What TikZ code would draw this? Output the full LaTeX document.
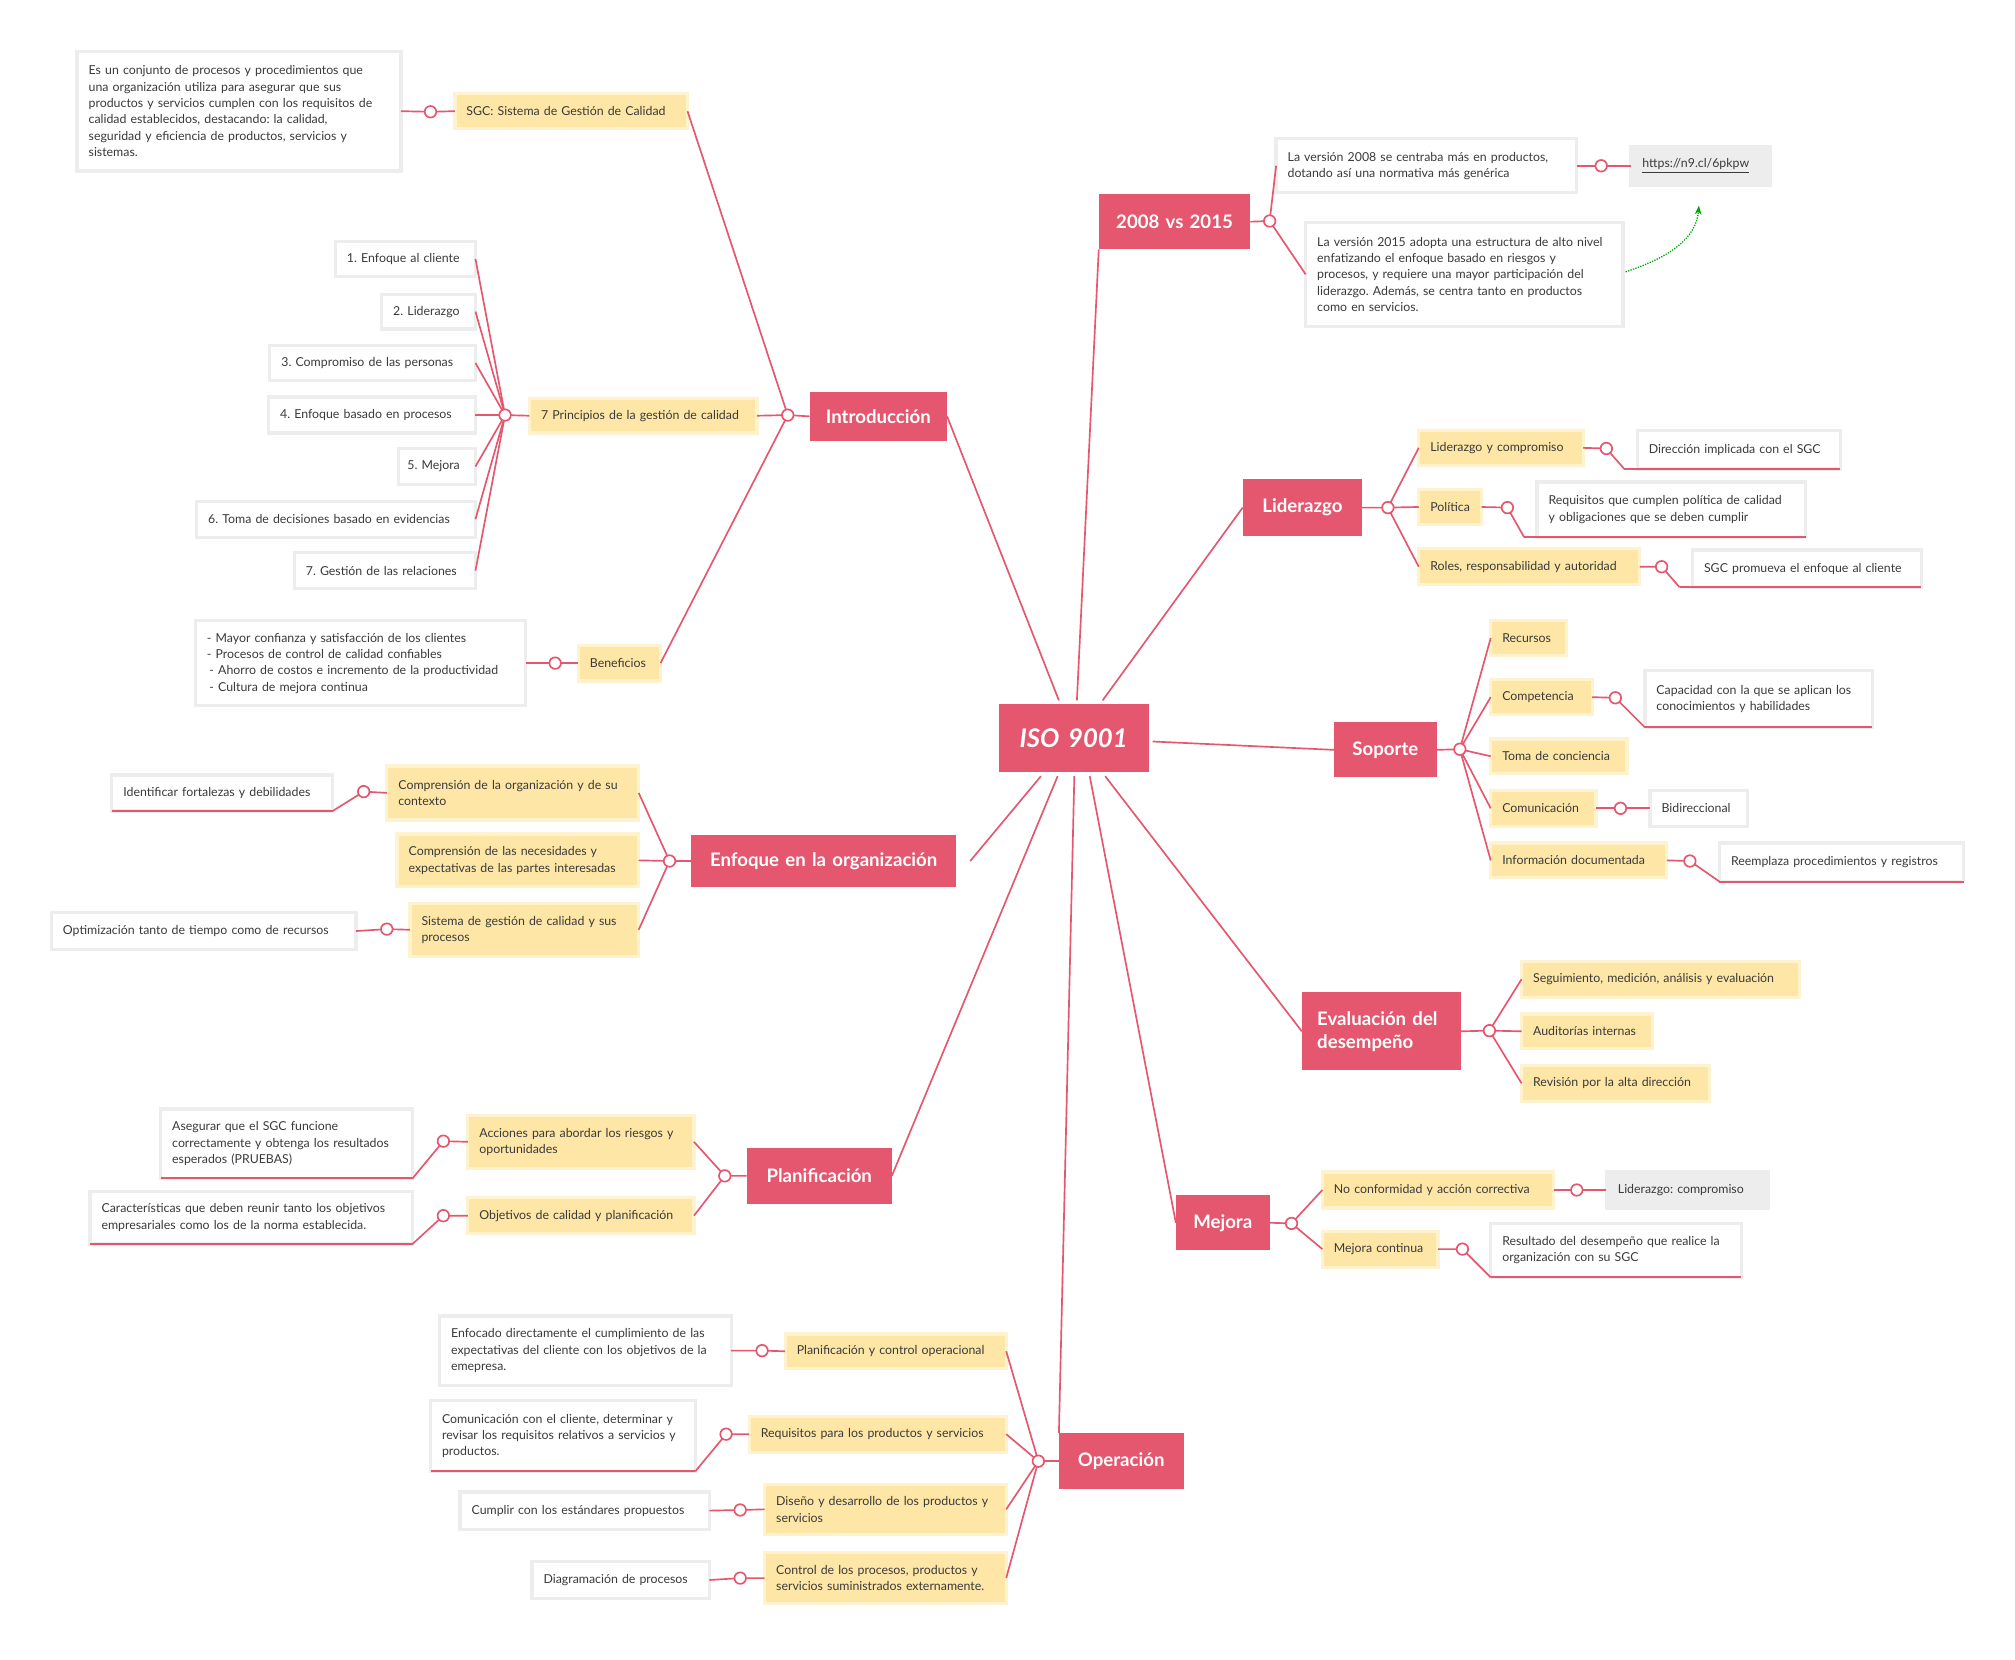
\documentclass[tikz,border=0pt]{standalone}
\usepackage{fontspec}
\setmainfont{Lato}
\frenchspacing
\usetikzlibrary{arrows.meta,calc}
\definecolor{pk}{HTML}{E5566F}
\definecolor{yf}{HTML}{FEE6A6}
\definecolor{yd}{HTML}{FFF2CF}
\definecolor{gb}{HTML}{EDEDED}
\definecolor{tx}{HTML}{3A3A3A}
\newcommand\bx[6]{\node[text width={(#4)-(#2)-18},#1,minimum width={(#4)-(#2)},minimum height={(#5)-(#3)}] (#6) at ({((#2)+(#4))/2},{((#3)+(#5))/2})}
\tikzset{
 base/.style={inner sep=0pt,outer sep=0pt,text=tx,font=\fontsize{9.6}{12.7}\selectfont,align=left},
 yb/.style={base,fill=yf,draw=yd,line width=2.5pt},
 wb/.style={base,fill=white,draw=gb,line width=2.5pt},
 gyb/.style={base,fill=gb,draw=gb,line width=2.5pt},
 mn/.style={inner sep=0pt,outer sep=0pt,fill=pk,text=white,font=\fontsize{14.5}{18}\selectfont\bfseries,align=center},
 ln/.style={draw=pk,line width=1.3pt},
 ul/.style={draw=pk,line width=1.5pt},
}
\begin{document}
\begin{tikzpicture}[x=1pt,y=-1pt]
\useasboundingbox (0,0) rectangle (1568,1291);
% central
\bx{mn,font=\fontsize{20}{24}\selectfont\bfseries\itshape}{777}{548}{894}{601}{iso}{ISO 9001};
% main topics
\bx{mn}{630}{305}{737}{343}{intro}{Introducción};
\bx{mn}{855}{151}{973}{194}{t08}{2008 vs 2015};
\bx{mn}{967}{373}{1060}{417}{lid}{Liderazgo};
\bx{mn}{1038}{562}{1118}{605}{sop}{Soporte};
\bx{mn,align=left,text width=100}{1013}{772}{1137}{833}{eval}{Evaluación del\\desempeño};
\bx{mn}{915}{930}{988}{973}{mej}{Mejora};
\bx{mn}{824}{1115}{921}{1159}{op}{Operación};
\bx{mn}{581}{893}{694}{937}{plan}{Planificación};
\bx{mn}{538}{650}{744}{690}{enf}{Enfoque en  la organización};
% circles coords
\coordinate (ci) at (613,323); \coordinate (cp) at (393,323); \coordinate (cs) at (335,87); \coordinate (cb) at (432,516);
\coordinate (c08) at (988,172); \coordinate (cv) at (1246,129);
\coordinate (cl) at (1080,395); \coordinate (cl1) at (1250,349); \coordinate (cl2) at (1173,395); \coordinate (cl3) at (1293,441);
\coordinate (cso) at (1136,583); \coordinate (cs2) at (1257,543); \coordinate (cs4) at (1261,629); \coordinate (cs5) at (1315,670);
\coordinate (cev) at (1159,802);
\coordinate (cm) at (1005,952); \coordinate (cm1) at (1227,926); \coordinate (cm2) at (1138,972);
\coordinate (co) at (808,1137); \coordinate (co1) at (593,1051); \coordinate (co2) at (565,1116); \coordinate (co3) at (576,1175); \coordinate (co4) at (576,1228);
\coordinate (cpl) at (564,915); \coordinate (cpl1) at (345,888); \coordinate (cpl2) at (345,946);
\coordinate (ce) at (521,670); \coordinate (ce1) at (283,616); \coordinate (ce3) at (301,723);
% Introduccion
\bx{yb}{354}{73}{535}{100}{sgc}{SGC: Sistema de Gestión de Calidad};
\bx{wb}{60}{40}{312}{133}{sgcd}{Es un conjunto de procesos y procedimientos que\\una organización utiliza para asegurar que sus\\productos y servicios cumplen con los requisitos de\\calidad establecidos, destacando:  la calidad,\\seguridad y eficiencia de productos, servicios y\\sistemas.};
\bx{yb}{412}{310}{589}{337}{prin}{7 Principios de la gestión de calidad};
\bx{wb}{261}{188}{370}{215}{p1}{1. Enfoque al cliente};
\bx{wb}{297}{229}{370}{256}{p2}{2. Liderazgo};
\bx{wb}{210}{269}{370}{296}{p3}{3. Compromiso de las personas};
\bx{wb}{209}{309}{370}{337}{p4}{4. Enfoque basado en procesos};
\bx{wb,text width=46}{310}{349}{370}{377}{p5}{5. Mejora};
\bx{wb}{153}{390}{370}{418}{p6}{6. Toma de decisiones basado en evidencias};
\bx{wb}{229}{430}{370}{458}{p7}{7. Gestión de las relaciones};
\bx{yb}{450}{502}{514}{530}{ben}{Beneficios};
\bx{wb}{152}{483}{409}{549}{bend}{- Mayor confianza y satisfacción de los clientes\\-  Procesos de control de calidad confiables\\\hspace*{2pt}- Ahorro de costos e incremento de la productividad\\\hspace*{2pt}- Cultura de mejora continua};
% 2008
\bx{wb}{993}{108}{1227}{150}{v1}{La versión 2008  se centraba más en productos,\\dotando así una normativa más genérica};
\bx{wb}{1016}{173}{1263}{254}{v2}{La versión 2015 adopta una estructura de alto nivel\\enfatizando el enfoque basado en riesgos y\\procesos, y requiere una mayor participación del\\liderazgo. Además, se centra tanto en productos\\como en servicios.};
\bx{gyb}{1269}{114}{1378}{144}{link}{\underline{https://n9.cl/6pkpw}};
% Liderazgo
\bx{yb}{1104}{335}{1232}{362}{l1}{Liderazgo y compromiso};
\bx{yb}{1104}{381}{1153}{408}{l2}{Política};
\bx{yb}{1104}{427}{1276}{455}{l3}{Roles, responsabilidad y autoridad};
\bx{wb}{1274}{335}{1432}{365}{ld1}{Dirección implicada con el SGC};
\bx{wb}{1196}{375}{1405}{418}{ld2}{Requisitos que cumplen política de calidad\\y obligaciones que se deben cumplir};
\bx{wb}{1317}{428}{1495}{457}{ld3}{SGC promueva el enfoque al cliente};
% Soporte
\bx{yb}{1160}{483}{1219}{510}{s1}{Recursos};
\bx{yb}{1160}{529}{1239}{556}{s2}{Competencia};
\bx{yb}{1160}{575}{1266}{602}{s3}{Toma de conciencia};
\bx{yb}{1160}{615}{1242}{643}{s4}{Comunicación};
\bx{yb}{1160}{656}{1297}{683}{s5}{Información documentada};
\bx{wb}{1280}{522}{1457}{566}{sd2}{Capacidad con la que se aplican los\\conocimientos y habilidades};
\bx{wb}{1284}{615}{1360}{643}{sd4}{Bidireccional};
\bx{wb}{1338}{656}{1528}{686}{sd5}{Reemplaza procedimientos y registros};
% Evaluacion
\bx{yb}{1184}{748}{1400}{776}{ev1}{Seguimiento, medición, análisis y evaluación};
\bx{yb}{1184}{789}{1286}{816}{ev2}{Auditorías internas};
\bx{yb}{1184}{829}{1330}{857}{ev3}{Revisión por la alta dirección};
% Mejora
\bx{yb}{1029}{912}{1209}{940}{m1}{No conformidad y acción correctiva};
\bx{yb}{1029}{958}{1119}{986}{m2}{Mejora continua};
\bx{gyb}{1250}{912}{1376}{940}{md1}{Liderazgo: compromiso};
\bx{wb}{1160}{952}{1355}{994}{md2}{Resultado del desempeño que realice la\\organización con su SGC};
% Operacion
\bx{yb}{611}{1038}{783}{1065}{o1}{Planificación y control operacional};
\bx{yb}{583}{1102}{783}{1130}{o2}{Requisitos para los productos y servicios};
\bx{yb}{595}{1155}{783}{1194}{o3}{Diseño y desarrollo de los productos y\\servicios};
\bx{yb}{595}{1208}{783}{1248}{o4}{Control de los procesos, productos y\\servicios suministrados externamente.};
\bx{wb}{342}{1024}{569}{1078}{od1}{Enfocado directamente el cumplimiento de las\\expectativas del cliente con los objetivos de la\\emepresa.};
\bx{wb}{335}{1090}{541}{1145}{od2}{Comunicación con el cliente, determinar y\\revisar los requisitos relativos a servicios y\\productos.};
\bx{wb}{358}{1161}{552}{1190}{od3}{Cumplir con los estándares propuestos};
\bx{wb}{414}{1215}{552}{1244}{od4}{Diagramación de procesos};
% Planificacion
\bx{yb}{364}{868}{540}{909}{pl1}{Acciones para abordar los riesgos y\\oportunidades};
\bx{yb}{364}{932}{540}{960}{pl2}{Objetivos de calidad y planificación};
\bx{wb}{125}{863}{321}{917}{pld1}{Asegurar que el SGC funcione\\correctamente y obtenga los resultados\\esperados (PRUEBAS)};
\bx{wb}{70}{927}{321}{968}{pld2}{Características que deben reunir tanto los objetivos\\empresariales como los de la norma establecida.};
% Enfoque
\bx{yb}{301}{596}{497}{638}{e1}{Comprensión de la organización y de su\\contexto};
\bx{yb}{309}{649}{497}{690}{e2}{Comprensión de las necesidades y\\expectativas de las partes interesadas};
\bx{yb}{319}{703}{497}{744}{e3}{Sistema de gestión de calidad y sus\\procesos};
\bx{wb}{87}{603}{259}{631}{ed1}{Identificar fortalezas y debilidades};
\bx{wb}{40}{710}{277}{739}{ed3}{Optimización tanto de tiempo como de recursos};
% underlines
\foreach \n/\d in {ld1/-10,ld2/-10,ld3/-10,sd2/0,sd5/0,md2/0}
  \draw[ul] ([xshift=\d]\n.south west) -- (\n.south east);
\foreach \n in {od2,pld1,pld2,ed1}
  \draw[ul] (\n.south west) -- (\n.south east);
% central connectors
\draw[ln] ($(iso.north west)+(47,-3)$) -- (intro.east);
\draw[ln] ($(iso.north west)+(61,-3)$) -- (t08.south west);
\draw[ln] ($(iso.north west)+(81,-3)$) -- (lid.west);
\draw[ln] ($(iso.north east)+(3,29)$) -- (sop.west);
\draw[ln] ($(iso.south west)+(83,3)$) -- (eval.west);
\draw[ln] ($(iso.south west)+(71,3)$) -- (mej.west);
\draw[ln] ($(iso.south west)+(59,3)$) -- (op.north west);
\draw[ln] ($(iso.south west)+(46,3)$) -- (plan.east);
\draw[ln] ($(iso.south west)+(33,3)$) -- ([xshift=11]enf.east);
% branch connectors
\draw[ln] (intro.west) -- (ci) (ci) -- (sgc.east) (ci) -- (prin.east) (ci) -- (ben.east);
\draw[ln] (sgc.west) -- (cs) -- (sgcd.east);
\draw[ln] (prin.west) -- (cp);
\foreach \p in {p1,p2,p3,p4,p5,p6,p7} \draw[ln] (cp) -- (\p.east);
\draw[ln] (ben.west) -- (cb) -- (bend.east);
\draw[ln] (t08.east) -- (c08) (c08) -- (v1.west) (c08) -- (v2.west);
\draw[ln] (v1.east) -- (cv) -- (link.west);
\draw[ln] (lid.east) -- (cl) (cl) -- (l1.west) (cl) -- (l2.west) (cl) -- (l3.west);
\draw[ln] (l1.east) -- (cl1) -- ([xshift=-10]ld1.south west);
\draw[ln] (l2.east) -- (cl2) -- ([xshift=-10]ld2.south west);
\draw[ln] (l3.east) -- (cl3) -- ([xshift=-10]ld3.south west);
\draw[ln] (sop.east) -- (cso);
\foreach \p in {s1,s2,s3,s4,s5} \draw[ln] (cso) -- (\p.west);
\draw[ln] (s2.east) -- (cs2) -- (sd2.south west);
\draw[ln] (s4.east) -- (cs4) -- (sd4.west);
\draw[ln] (s5.east) -- (cs5) -- (sd5.south west);
\draw[ln] (eval.east) -- (cev);
\foreach \p in {ev1,ev2,ev3} \draw[ln] (cev) -- (\p.west);
\draw[ln] (mej.east) -- (cm) (cm) -- (m1.west) (cm) -- (m2.west);
\draw[ln] (m1.east) -- (cm1) -- (md1.west);
\draw[ln] (m2.east) -- (cm2) -- (md2.south west);
\draw[ln] (op.west) -- (co);
\foreach \p in {o1,o2,o3,o4} \draw[ln] (co) -- (\p.east);
\draw[ln] (o1.west) -- (co1) -- (od1.east);
\draw[ln] (o2.west) -- (co2) -- (od2.south east);
\draw[ln] (o3.west) -- (co3) -- (od3.east);
\draw[ln] (o4.west) -- (co4) -- (od4.east);
\draw[ln] (plan.west) -- (cpl) (cpl) -- (pl1.east) (cpl) -- (pl2.east);
\draw[ln] (pl1.west) -- (cpl1) -- (pld1.south east);
\draw[ln] (pl2.west) -- (cpl2) -- (pld2.south east);
\draw[ln] (enf.west) -- (ce);
\foreach \p in {e1,e2,e3} \draw[ln] (ce) -- (\p.east);
\draw[ln] (e1.west) -- (ce1) -- (ed1.south east);
\draw[ln] (e3.west) -- (ce3) -- (ed3.east);
% circles
\foreach \c in {ci,cp,cs,cb,c08,cv,cl,cl1,cl2,cl3,cso,cs2,cs4,cs5,cev,cm,cm1,cm2,co,co1,co2,co3,co4,cpl,cpl1,cpl2,ce,ce1,ce3}
  \draw[ln,fill=white] (\c) circle (4.5);
% green arrow
\draw[green!65!black,densely dotted,line width=1pt,-{Stealth[length=7pt]}] (v2.east) ++(2,-2) .. controls (1300,200) and (1320,185) .. (1322,160);
\end{tikzpicture}
\end{document}
